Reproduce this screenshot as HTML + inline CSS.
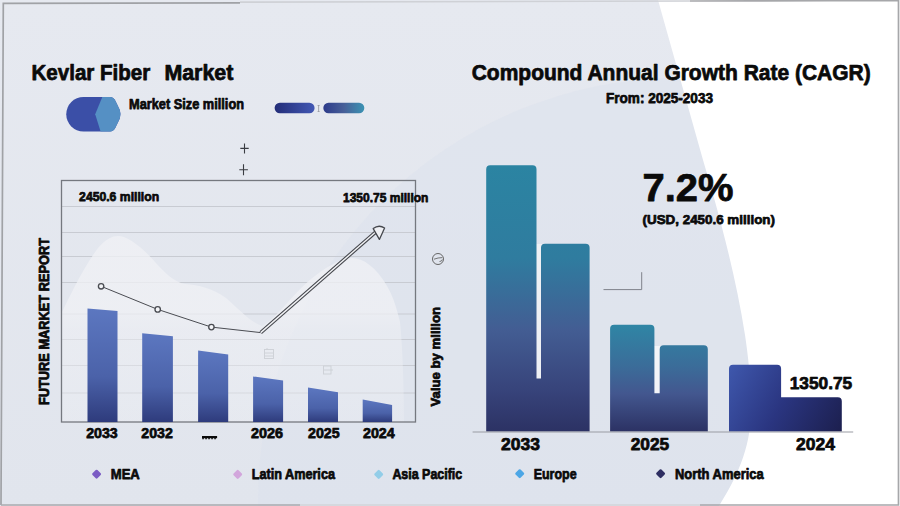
<!DOCTYPE html>
<html><head><meta charset="utf-8">
<style>
html,body{margin:0;padding:0;width:900px;height:506px;overflow:hidden;background:#e5e8ef;}
svg{display:block;}
text{font-family:"Liberation Sans",sans-serif;font-weight:bold;fill:#0a0a0a;stroke:#0a0a0a;stroke-width:0.75px;stroke-linejoin:round;}
</style></head>
<body>
<svg width="900" height="506" viewBox="0 0 900 506">
<defs>
  <linearGradient id="bgL" x1="0" y1="0" x2="0" y2="1">
    <stop offset="0" stop-color="#e6e9f0"/>
    <stop offset="1" stop-color="#e1e5ed"/>
  </linearGradient>
  <linearGradient id="barL" x1="0" y1="0" x2="0" y2="1">
    <stop offset="0" stop-color="#5c77c0"/>
    <stop offset="0.6" stop-color="#4b62a9"/>
    <stop offset="1" stop-color="#2e3b7c"/>
  </linearGradient>
  <linearGradient id="barR" x1="0" y1="0" x2="0" y2="1">
    <stop offset="0" stop-color="#2f84a3"/>
    <stop offset="0.55" stop-color="#40608f"/>
    <stop offset="1" stop-color="#2d3163"/>
  </linearGradient>
  <linearGradient id="barR2" gradientUnits="userSpaceOnUse" x1="0" y1="324" x2="0" y2="431">
    <stop offset="0" stop-color="#2f86a5"/>
    <stop offset="0.4" stop-color="#3b6c99"/>
    <stop offset="0.65" stop-color="#43578f"/>
    <stop offset="1" stop-color="#2c3264"/>
  </linearGradient>
  <linearGradient id="barR1" gradientUnits="userSpaceOnUse" x1="0" y1="165" x2="0" y2="431">
    <stop offset="0" stop-color="#2b84a2"/>
    <stop offset="0.35" stop-color="#2f7c9f"/>
    <stop offset="0.62" stop-color="#435d93"/>
    <stop offset="0.85" stop-color="#37437a"/>
    <stop offset="1" stop-color="#2c3264"/>
  </linearGradient>
  <linearGradient id="barR3" gradientUnits="userSpaceOnUse" x1="729" y1="365" x2="842" y2="431">
    <stop offset="0" stop-color="#3f58ad"/>
    <stop offset="0.5" stop-color="#2a3580"/>
    <stop offset="1" stop-color="#1c1f4e"/>
  </linearGradient>
  <linearGradient id="pill1" x1="0" y1="0" x2="1" y2="0">
    <stop offset="0" stop-color="#232d78"/>
    <stop offset="1" stop-color="#4258b4"/>
  </linearGradient>
  <linearGradient id="pill2" x1="0" y1="0" x2="1" y2="0">
    <stop offset="0" stop-color="#2c3a8a"/>
    <stop offset="0.5" stop-color="#475f98"/>
    <stop offset="1" stop-color="#3b93b3"/>
  </linearGradient>
  <linearGradient id="waveG" gradientUnits="userSpaceOnUse" x1="0" y1="236" x2="0" y2="422">
    <stop offset="0" stop-color="#f0f1f5" stop-opacity="0.78"/>
    <stop offset="0.4" stop-color="#f0f1f5" stop-opacity="0.75"/>
    <stop offset="0.5" stop-color="#f0f1f5" stop-opacity="0.5"/>
    <stop offset="1" stop-color="#f0f1f5" stop-opacity="0.3"/>
  </linearGradient>
</defs>

<!-- background -->
<rect x="0" y="0" width="900" height="506" fill="url(#bgL)"/>
<circle cx="680" cy="500" r="422" fill="#dde1ec" opacity="0.55"/>
<path d="M658,0 L900,0 L900,506 L719,506 C735,480 751,450 751,410 C751,380 748,355 745,335 C735,270 715,200 703,160 Z" fill="#ffffff"/>
<!-- outer border -->
<g fill="none" stroke-width="1.7">
<path d="M1,505 L3.3,3.3 L240,2.8" stroke="#a0a2a6"/>
<path d="M240,2.2 L690,1" stroke="#cfd1d6"/>
<path d="M690,1 L898.5,0.5 L898.5,505 L700,505" stroke="#a6a7aa"/>
<path d="M700,505 L300,505" stroke="#d2d4d9"/>
<path d="M300,505 L1,505" stroke="#a8aaae"/>
</g>

<!-- Titles -->
<text x="31.5" y="79.7" font-size="21.4" textLength="118.8" lengthAdjust="spacingAndGlyphs">Kevlar Fiber</text>
<text x="164.4" y="79.7" font-size="21.4" textLength="69" lengthAdjust="spacingAndGlyphs">Market</text>
<text x="471.7" y="79.7" font-size="22.6" textLength="399" lengthAdjust="spacingAndGlyphs">Compound Annual Growth Rate (CAGR)</text>
<text x="606" y="103.2" font-size="15" textLength="107" lengthAdjust="spacingAndGlyphs">From: 2025-2033</text>

<!-- icon -->
<path d="M83.5,97 L110,97 Q113.5,97 115.5,101 L119.8,110 Q121.2,114.2 119.8,118.5 L115.5,127.5 Q113.5,131.5 110,131.5 L83.5,131.5 A17.25,17.25 0 0 1 83.5,97 Z" fill="#3b4fa7"/>
<path d="M102.3,97 L110,97 Q113.5,97 115.5,101 L119.8,110 Q121.2,114.2 119.8,118.5 L115.5,127.5 Q113.5,131.5 110,131.5 L100.6,131.5 L95.2,114.2 Z" fill="#5590c4"/>
<text x="129" y="109" font-size="14.5" textLength="115" lengthAdjust="spacingAndGlyphs">Market Size million</text>
<rect x="274.6" y="102.8" width="40" height="10.4" rx="5.2" fill="url(#pill1)"/>
<rect x="323.3" y="102.8" width="41" height="10.4" rx="5.2" fill="url(#pill2)"/>
<path d="M318.6,105.5 V111.5 M317.6,105.5 H319.6 M317.6,111.5 H319.6" stroke="#8a8c94" stroke-width="0.7" fill="none"/>

<!-- plus signs -->
<path d="M244.5,143.4 V153.4 M240.3,148.4 H248.7 M243.5,164.3 V175.3 M239.3,169.8 H247.9" stroke="#3a3c42" stroke-width="1.1"/>

<!-- left chart grid -->
<g stroke="#c8cbd2" stroke-width="1">
  <line x1="62" y1="206.5" x2="415" y2="206.5"/>
  <line x1="62" y1="232.5" x2="415" y2="232.5"/>
  <line x1="62" y1="256.5" x2="415" y2="256.5"/>
  <line x1="62" y1="282.5" x2="415" y2="282.5"/>
  <line x1="62" y1="314" x2="415" y2="314"/>
  <line x1="62" y1="339.5" x2="415" y2="339.5"/>
  <line x1="62" y1="365.5" x2="415" y2="365.5"/>
  <line x1="62" y1="393" x2="415" y2="393"/>
</g>
<!-- wave in left chart -->
<path d="M62,312 C70,296 83,268 98,248 C106,239 112,236 118,236 C127,236 141,246 155,262 C165,273 174,282 185,284 C199,285 212,288 226,298 C240,310 250,322 262,326 C276,319 291,296 311,279 C325,268 340,258 352,258 C363,258 376,267 387,286 C394,298 397,310 400,322 C402,340 404,380 404,422 L62,422 Z" fill="url(#waveG)"/>
<rect x="61.5" y="180.5" width="354" height="241.5" fill="none" stroke="#75787f" stroke-width="1.3"/>

<!-- bars -->
<path d="M87.5,308.5 L117.5,311 L117.5,422 L87.5,422 Z" fill="url(#barL)"/>
<path d="M142.2,333.2 L172.9,336.3 L172.9,422 L142.2,422 Z" fill="url(#barL)"/>
<path d="M198.1,350.6 L228.2,354.4 L228.2,422 L198.1,422 Z" fill="url(#barL)"/>
<path d="M253.1,376.5 L283.1,380.6 L283.1,422 L253.1,422 Z" fill="url(#barL)"/>
<path d="M308,387.5 L338,392.3 L338,422 L308,422 Z" fill="url(#barL)"/>
<path d="M362.7,399.6 L392.1,405 L392.1,422 L362.7,422 Z" fill="url(#barL)"/>

<!-- line -->
<polyline points="101.1,286.3 157.7,309.4 211.4,327.1 260.7,332.6" fill="none" stroke="#4a4c52" stroke-width="1"/>
<g fill="#f4f5f8" stroke="#4a4c52" stroke-width="1.35">
  <circle cx="101.1" cy="286.3" r="2.7"/>
  <circle cx="157.7" cy="309.4" r="2.7"/>
  <circle cx="211.4" cy="327.1" r="2.7"/>
</g>
<!-- double arrow -->
<line x1="260.7" y1="332.6" x2="376.5" y2="231.3" stroke="#45474d" stroke-width="3.6"/>
<line x1="260.7" y1="332.6" x2="376.5" y2="231.3" stroke="#f2f3f6" stroke-width="1.4"/>
<path d="M373.2,228.6 Q378.8,224.2 384.6,228 L379.4,239.4 Z" fill="#eff0f4" stroke="#45474d" stroke-width="1.3" stroke-linejoin="round"/>
<text x="79.1" y="201.1" font-size="13" textLength="80" lengthAdjust="spacingAndGlyphs">2450.6 million</text>
<text x="343" y="201.6" font-size="13" textLength="85.4" lengthAdjust="spacingAndGlyphs">1350.75 million</text>

<!-- x labels -->
<text x="86.2" y="438.3" font-size="15" textLength="31.5" lengthAdjust="spacingAndGlyphs">2033</text>
<text x="141.3" y="438.3" font-size="15" textLength="31.5" lengthAdjust="spacingAndGlyphs">2032</text>
<rect x="202" y="436" width="15.1" height="2.2" fill="#0a0a0a"/><path d="M202.3,438.6 H217" stroke="#0a0a0a" stroke-width="1.1" stroke-dasharray="1.5,1.5"/>
<text x="251" y="438.3" font-size="15" textLength="32" lengthAdjust="spacingAndGlyphs">2026</text>
<text x="308" y="438.3" font-size="15" textLength="31.6" lengthAdjust="spacingAndGlyphs">2025</text>
<text x="363" y="438.3" font-size="15" textLength="31.7" lengthAdjust="spacingAndGlyphs">2024</text>

<!-- rotated labels -->
<text transform="translate(49,405) rotate(-90)" x="0" y="0" font-size="14.5" textLength="167" lengthAdjust="spacingAndGlyphs">FUTURE MARKET REPORT</text>
<text transform="translate(439.6,406.5) rotate(-90)" x="0" y="0" font-size="12.8" textLength="99.5" lengthAdjust="spacingAndGlyphs">Value by million</text>

<g fill="none" stroke="#cdd0d6" stroke-width="0.9">
<rect x="264.5" y="349.5" width="9" height="9"/><path d="M265,353 H273 M265,356 H273 M267,348 V350"/>
<rect x="323.5" y="366" width="7.5" height="8"/><path d="M324,370 H333"/>
</g>
<!-- small icon circle -->
<circle cx="438" cy="259" r="5.5" fill="none" stroke="#666" stroke-width="1"/>
<path d="M434,259.2 Q438,257.6 442.3,257.6 M442.3,259.5 Q442,261.5 439.5,261.5" fill="none" stroke="#666" stroke-width="0.9"/>

<!-- right chart -->
<rect x="535" y="244" width="7" height="135" fill="#eef0f4"/>
<path d="M490.2,165.3 H532.5 A4,4 0 0 1 536.5,169.3 V378.4 H541 V247.7 A4,4 0 0 1 545,243.7 H585.6 A4,4 0 0 1 589.6,247.7 V431.5 H486.2 V169.3 A4,4 0 0 1 490.2,165.3 Z" fill="url(#barR1)"/>
<rect x="653" y="346" width="8" height="48" fill="#f3f4f8"/>
<path d="M614.1,324.7 H650.4 A4,4 0 0 1 654.4,328.7 V393.2 H659.7 V349.2 A4,4 0 0 1 663.7,345.2 H703.8 A4,4 0 0 1 707.8,349.2 V431.5 H610.1 V328.7 A4,4 0 0 1 614.1,324.7 Z" fill="url(#barR2)"/>
<path d="M733,364.8 H777.1 A4,4 0 0 1 781.1,368.8 V397.3 H837.8 A4,4 0 0 1 841.8,401.3 V431.5 H729 V368.8 A4,4 0 0 1 733,364.8 Z" fill="url(#barR3)"/>
<line x1="472.6" y1="432" x2="853.2" y2="432" stroke="#9a9ca4" stroke-width="1.2"/>
<path d="M603.5,289.6 H641.7 V272.2" fill="none" stroke="#7f828b" stroke-width="1"/>

<text x="501" y="450" font-size="17.4" textLength="39" lengthAdjust="spacingAndGlyphs">2033</text>
<text x="630.7" y="450" font-size="17.4" textLength="38.5" lengthAdjust="spacingAndGlyphs">2025</text>
<text x="796" y="449.5" font-size="17.4" textLength="38.9" lengthAdjust="spacingAndGlyphs">2024</text>
<text x="789.7" y="389.4" font-size="17.4" textLength="62.5" lengthAdjust="spacingAndGlyphs">1350.75</text>

<text x="642.5" y="201" font-size="39" textLength="91" lengthAdjust="spacingAndGlyphs">7.2%</text>
<text x="642.5" y="224" font-size="13.5" textLength="132.5" lengthAdjust="spacingAndGlyphs">(USD, 2450.6 million)</text>

<!-- legend -->
<g>
  <rect x="93.1" y="470.7" width="7" height="7" rx="1.2" transform="rotate(45 96.6 474.2)" fill="#7b5cc4"/>
  <text x="110.8" y="478.8" font-size="15.4" textLength="29" lengthAdjust="spacingAndGlyphs">MEA</text>
  <rect x="234.2" y="470.9" width="7" height="7" rx="1.2" transform="rotate(45 237.7 474.4)" fill="#d2a6dc"/>
  <text x="251.7" y="478.5" font-size="15" textLength="83.3" lengthAdjust="spacingAndGlyphs">Latin America</text>
  <rect x="375.2" y="470.9" width="7" height="7" rx="1.2" transform="rotate(45 378.7 474.4)" fill="#92cde8"/>
  <text x="392.4" y="478.5" font-size="15" textLength="69.8" lengthAdjust="spacingAndGlyphs">Asia Pacific</text>
  <rect x="516.2" y="470.2" width="7" height="7" rx="1.2" transform="rotate(45 519.7 473.7)" fill="#4ca6e6"/>
  <text x="533.7" y="478.5" font-size="15" textLength="42.9" lengthAdjust="spacingAndGlyphs">Europe</text>
  <rect x="657.1" y="470.2" width="7" height="7" rx="1.2" transform="rotate(45 660.6 473.7)" fill="#2e2e62"/>
  <text x="675" y="478.5" font-size="15" textLength="88.7" lengthAdjust="spacingAndGlyphs">North America</text>
</g>
</svg>
</body></html>
